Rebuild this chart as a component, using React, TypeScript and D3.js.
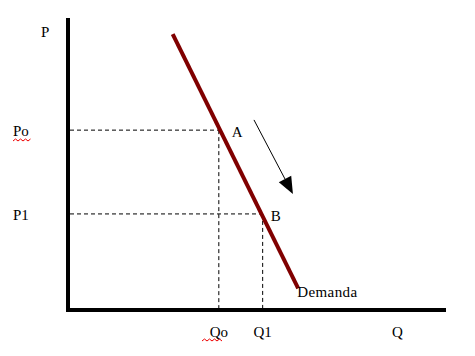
import React from "react";
import * as d3 from "d3";

const W = 475;
const H = 356;

// Demand curve endpoints (Q, P) in abstract units 0..100
const demandQ = [27.7, 60.9];
const demandP = [94.5, 7.4];
// Equilibrium points
const pointNames = ["A", "B"];
const pointQ = [39.9, 51.5];
const pointP = [61.6, 32.9];
// Axis tick labels
const priceLabels = ["Po", "P1"];
const qtyLabels = ["Qo", "Q1"];
// Movement arrow (Q, P) start and end
const arrowQ = [49.2, 59.5];
const arrowP = [65.1, 39.7];

export default function App() {
  const x = d3.scaleLinear().domain([0, 100]).range([68, 446]);
  const y = d3.scaleLinear().domain([0, 100]).range([310, 18]);
  const line = d3.line<[number, number]>().x((d) => x(d[0])).y((d) => y(d[1]));
  const demand: [number, number][] = demandQ.map((q, i) => [q, demandP[i]]);

  const font = "'Liberation Serif', 'Times New Roman', serif";
  const fs = 15;

  const squiggle = (x0: number, x1: number, yy: number) => {
    let d = `M${x0},${yy}`;
    let up = true;
    for (let xx = x0 + 2.5; xx <= x1; xx += 2.5) {
      d += ` L${xx},${up ? yy - 2 : yy}`;
      up = !up;
    }
    return d;
  };

  // Arrow geometry
  const ax0 = x(arrowQ[0]);
  const ay0 = y(arrowP[0]);
  const ax1 = x(arrowQ[1]);
  const ay1 = y(arrowP[1]);
  const ang = Math.atan2(ay1 - ay0, ax1 - ax0);
  const hl = 17;
  const hw = 7;
  const bx = ax1 - hl * Math.cos(ang);
  const by = ay1 - hl * Math.sin(ang);
  const head = `M${ax1},${ay1} L${bx + hw * Math.sin(ang)},${by - hw * Math.cos(ang)} L${bx - hw * Math.sin(ang)},${by + hw * Math.cos(ang)} Z`;

  return (
    <svg
      width={W}
      height={H}
      style={{ position: "absolute", left: 0, top: 0, background: "#fff" }}
      fontFamily={font}
      fontSize={fs}
    >
      <rect width={W} height={H} fill="#fff" />
      {/* dashed guides */}
      {pointQ.map((q, i) => (
        <g key={"g" + i} stroke="#000" strokeWidth={1} strokeDasharray="4,3" fill="none">
          <line x1={x(0) + 2} y1={y(pointP[i])} x2={x(q)} y2={y(pointP[i])} />
          <line x1={x(q)} y1={y(pointP[i])} x2={x(q)} y2={y(0)} />
        </g>
      ))}
      {/* axes */}
      <line x1={x(0)} y1={y(100)} x2={x(0)} y2={y(0) + 2} stroke="#000" strokeWidth={4} />
      <line x1={x(0) - 2} y1={y(0)} x2={x(100)} y2={y(0)} stroke="#000" strokeWidth={4} />
      {/* demand curve */}
      <path d={line(demand) || ""} stroke="#800000" strokeWidth={4} fill="none" />
      {/* arrow */}
      <line x1={ax0} y1={ay0} x2={bx} y2={by} stroke="#000" strokeWidth={1} />
      <path d={head} fill="#000" />
      {/* labels */}
      <text x={41} y={37}>P</text>
      <text x={392} y={337}>Q</text>
      {priceLabels.map((t, i) => (
        <text key={"p" + i} x={13} y={y(pointP[i]) + 6}>{t}</text>
      ))}
      {qtyLabels.map((t, i) => (
        <text key={"q" + i} x={x(pointQ[i])} y={337} textAnchor="middle">{t}</text>
      ))}
      {pointNames.map((t, i) => (
        <text key={"n" + i} x={x(pointQ[i]) + 13 - i * 5} y={y(pointP[i]) + 7}>{t}</text>
      ))}
      <text x={x(demandQ[1]) - 1} y={297} textLength={60}>Demanda</text>
      {/* spell-check squiggles */}
      <path d={squiggle(13, 31, 141)} stroke="#e00" strokeWidth={1} fill="none" />
      <path d={squiggle(202, 223, 341)} stroke="#e00" strokeWidth={1} fill="none" />
    </svg>
  );
}
